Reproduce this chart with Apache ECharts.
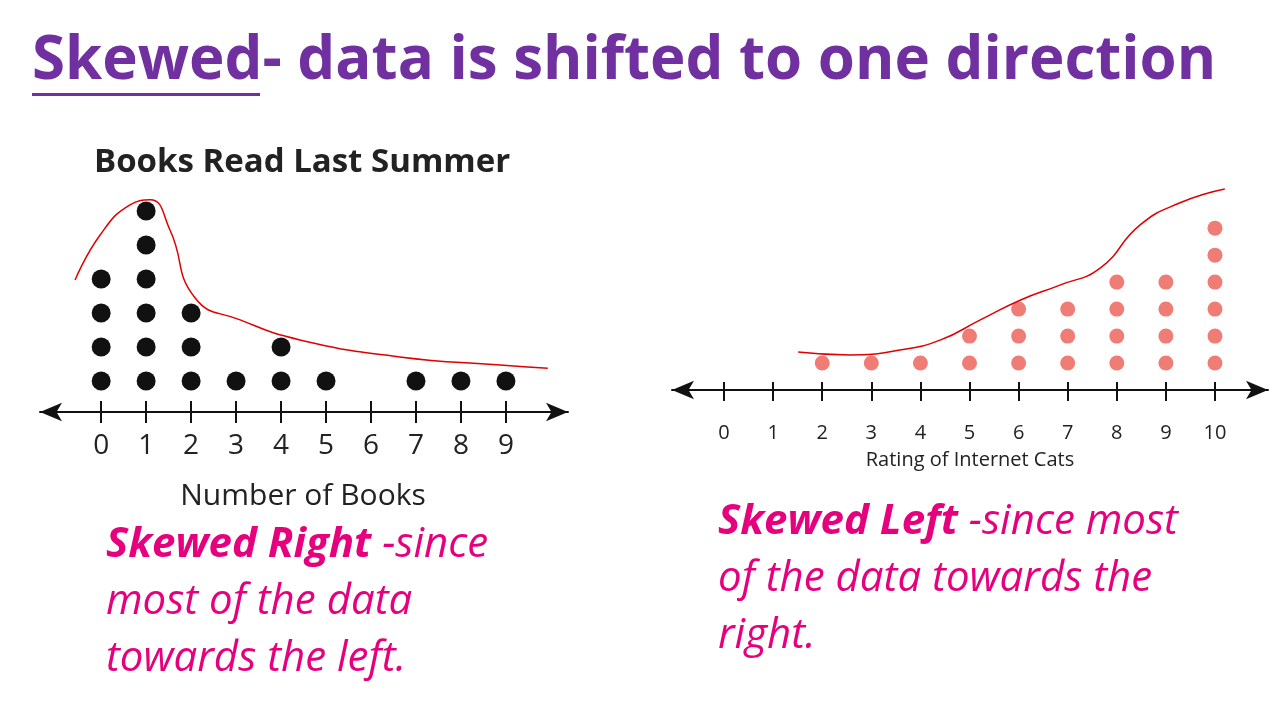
<!DOCTYPE html><html><head><meta charset="utf-8"><script src="https://cdn.jsdelivr.net/npm/echarts@6/dist/echarts.min.js"></script>
<style>body{margin:0}#c{width:1280px;height:720px;background:#fff}</style></head><body><div id="c"></div><script>
const booksCats=[0,1,2,3,4,5,6,7,8,9];
const booksCounts=[4,6,3,1,2,1,0,1,1,1];
const catsCats=[0,1,2,3,4,5,6,7,8,9,10];
const catsCounts=[0,0,1,1,1,2,3,3,4,4,6];
const leftCurve=[[-0.58,3.97],[-0.02,5.3],[0.64,6.18],[1.09,6.33],[1.53,5.44],[2.09,3.44],[3.09,2.8],[4.42,2.21],[6.64,1.71],[8.87,1.47],[9.93,1.38]];
const rightCurve=[[1.51,1.41],[2.57,1.3],[3.58,1.48],[4.4,1.85],[5.21,2.59],[6.03,3.33],[6.84,3.89],[7.66,4.52],[8.47,6.11],[9.29,6.94],[10.2,7.45]];
function dots(cats,counts){const d=[];cats.forEach((c,i)=>{for(let k=1;k<=counts[i];k++)d.push([c,k]);});return d;}
const ch=echarts.init(document.getElementById('c'));
const F='"Open Sans", "Noto Sans", sans-serif';
function xa(grid,min,max,inside,fs,lc,cv){return {type:'value',gridIndex:grid,min:min,max:max,interval:1,position:'bottom',
 axisLine:{show:!inside,symbol:['arrow','arrow'],symbolSize:[14,22],lineStyle:{color:'#111',width:2}},
 axisTick:{show:true,inside:inside,length:11,lineStyle:{color:'#111',width:2},customValues:cv},
 axisLabel:{show:!inside,fontSize:fs,color:'#222',fontFamily:F,margin:lc,customValues:cv},
 splitLine:{show:false}};}
const xAxes=[xa(0,-1.36,10.38,false,28,20,booksCats),xa(0,-1.36,10.38,true,28,20,booksCats),xa(1,-1.06,11.08,false,20,30,catsCats),xa(1,-1.06,11.08,true,20,30,catsCats)];
const pink={fontSize:42,fontStyle:'italic',fill:'#e6007e',fontFamily:F};
ch.setOption({
 animation:false,
 grid:[{left:40,width:528,top:194,height:218},{left:672,width:596,top:185,height:208}],
 xAxis:xAxes,
 yAxis:[{type:'value',gridIndex:0,min:0.09,max:6.5,show:false},{type:'value',gridIndex:1,min:-0.11,max:7.6,show:false}],
 series:[
  {type:'scatter',xAxisIndex:0,yAxisIndex:0,data:dots(booksCats,booksCounts),symbolSize:19,itemStyle:{color:'#111',opacity:1}},
  {type:'scatter',xAxisIndex:2,yAxisIndex:1,data:dots(catsCats,catsCounts),symbolSize:15,itemStyle:{color:'#ef7d76',opacity:1}},
  {type:'line',xAxisIndex:0,yAxisIndex:0,data:leftCurve,smooth:true,symbol:'none',lineStyle:{color:'#e00000',width:1.5}},
  {type:'line',xAxisIndex:2,yAxisIndex:1,data:rightCurve,smooth:true,symbol:'none',lineStyle:{color:'#e00000',width:1.5}}
 ],
 graphic:[
  {type:'text',left:32,top:32,style:{text:'Skewed- data is shifted to one direction',fontSize:60,fontWeight:'bold',fill:'#7030a0',fontFamily:F}},
  {type:'rect',shape:{x:32,y:93,width:228,height:3},style:{fill:'#7030a0'}},
  {type:'text',left:94,top:146,style:{text:'Books Read Last Summer',fontSize:33,fontWeight:'bold',fill:'#222',fontFamily:F}},
  {type:'text',x:303,y:496,style:{text:'Number of Books',fontSize:30,fontWeight:500,fill:'#222',fontFamily:F,align:'center',verticalAlign:'middle'}},
  {type:'text',x:970,y:460,style:{text:'Rating of Internet Cats',fontSize:20,fill:'#222',fontFamily:F,align:'center',verticalAlign:'middle'}},
  {type:'text',left:106,top:517,style:Object.assign({text:'{b|Skewed Right} -since\nmost of the data\ntowards the left.',lineHeight:57,rich:{b:Object.assign({fontWeight:'bold'},pink)}},pink)},
  {type:'text',left:718,top:494,style:Object.assign({text:'{b|Skewed Left} -since most\nof the data towards the\nright.',lineHeight:57,rich:{b:Object.assign({fontWeight:'bold'},pink)}},pink)}
 ]
});
</script></body></html>
